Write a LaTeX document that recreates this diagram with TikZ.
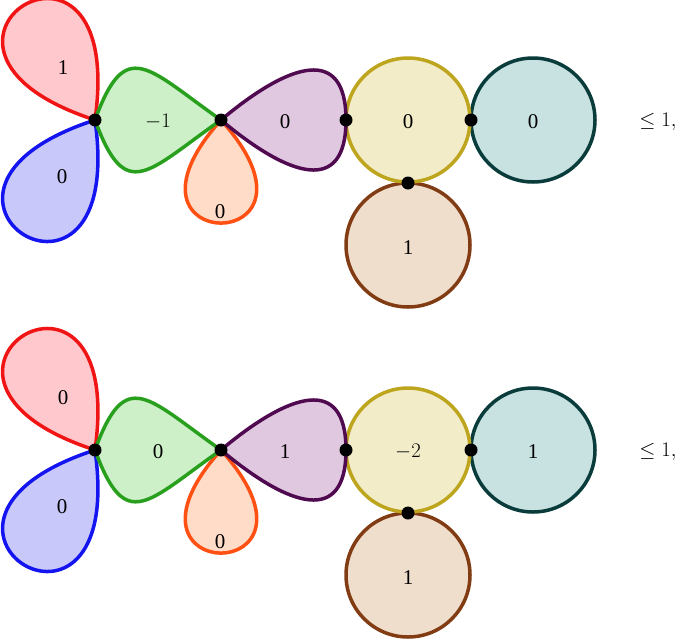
\documentclass[tikz,border=0pt]{standalone}
\usepackage{fontspec}
\setmainfont{Liberation Serif}
\begin{document}
\begin{tikzpicture}[x=1pt,y=-1pt,
  lobe/.style={line width=3.5pt},
  dot/.style={circle,fill=black,inner sep=0pt,minimum size=13pt},
  lbl/.style={font=\fontsize{21}{24}\selectfont}]
\definecolor{rS}{RGB}{240,20,20}\definecolor{rF}{RGB}{255,200,205}
\definecolor{bS}{RGB}{20,20,240}\definecolor{bF}{RGB}{200,200,250}
\definecolor{gS}{RGB}{40,160,30}\definecolor{gF}{RGB}{205,240,200}
\definecolor{oS}{RGB}{255,80,20}\definecolor{oF}{RGB}{255,220,200}
\definecolor{pS}{RGB}{80,10,80}\definecolor{pF}{RGB}{225,200,225}
\definecolor{yS}{RGB}{190,165,30}\definecolor{yF}{RGB}{242,236,200}
\definecolor{tS}{RGB}{10,60,60}\definecolor{tF}{RGB}{200,225,225}
\definecolor{nS}{RGB}{130,60,20}\definecolor{nF}{RGB}{240,222,205}
\useasboundingbox (0,0) rectangle (685,643);
\foreach \oy/\la/\lb/\lc/\ld/\le/\lf/\lg/\lh in
  {0/1/0/$-1$/0/0/0/0/1, 330/0/0/0/0/1/$-2$/1/1}{
\begin{scope}[yshift=-\oy pt]
\coordinate (A\oy) at (95,120);
\coordinate (B\oy) at (221,120);
\coordinate (C\oy) at (346,120);
\coordinate (D\oy) at (471,120);
\coordinate (E\oy) at (408,183);
\draw[lobe,draw=nS,fill=nF] (408,245) circle[radius=62];
\draw[lobe,draw=tS,fill=tF] (533,120) circle[radius=62];
\draw[lobe,draw=yS,fill=yF] (408,120) circle[radius=62];
\draw[lobe,draw=rS,fill=rF] (A\oy) .. controls +(-82:235) and +(-162:235) .. (A\oy);
\draw[lobe,draw=bS,fill=bF] (A\oy) .. controls +(82:235) and +(162:235) .. (A\oy);
\draw[lobe,draw=oS,fill=oF] (B\oy) .. controls +(132:185) and +(48:185) .. (B\oy);
\draw[lobe,draw=pS,fill=pF] (B\oy) .. controls +(-40:90) and +(-90:75) .. (C\oy) .. controls +(90:75) and +(40:90) .. (B\oy);
\draw[lobe,draw=gS,fill=gF] (A\oy) .. controls +(-70:90) and +(-145:90) .. (B\oy) .. controls +(145:90) and +(70:90) .. (A\oy);
\node[dot] (a\oy) at (A\oy) {};
\node[dot] (b\oy) at (B\oy) {};
\node[dot] (c\oy) at (C\oy) {};
\node[dot] (d\oy) at (D\oy) {};
\node[dot] (e\oy) at (E\oy) {};
\node[lbl] (la\oy) at (63,68) {\la};
\node[lbl] (lb\oy) at (62,177) {\lb};
\node[lbl] (lc\oy) at (158,122) {\lc};
\node[lbl] (ld\oy) at (220,212) {\ld};
\node[lbl] (le\oy) at (285,122) {\le};
\node[lbl] (lf\oy) at (408,122) {\lf};
\node[lbl] (lg\oy) at (533,122) {\lg};
\node[lbl] (lh\oy) at (408,248) {\lh};
\node[lbl] (t\oy) at (658,122) {$\leq 1,$};
\end{scope}}
\end{tikzpicture}
\end{document}
